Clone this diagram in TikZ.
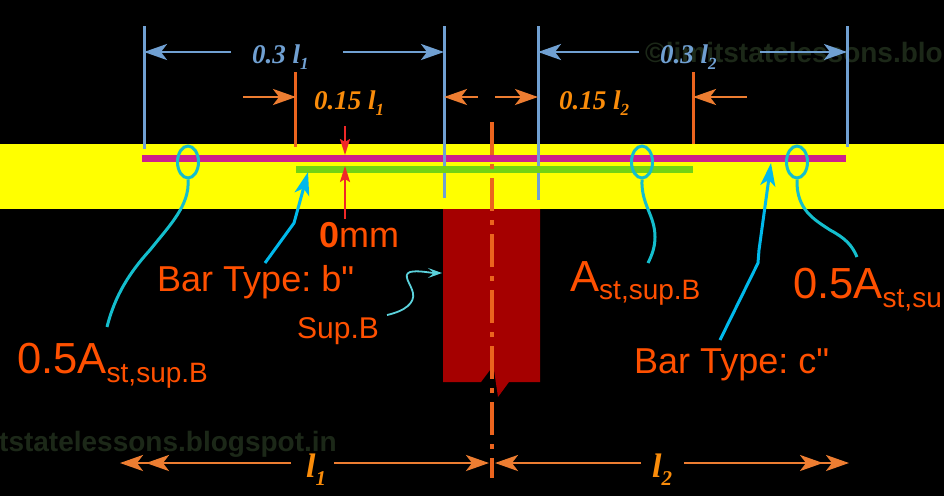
\documentclass[tikz,border=0pt]{standalone}
\usepackage{fontspec}
\setmainfont{Liberation Sans}
\newfontfamily\plainsans{Liberation Sans}
\newfontfamily\serifbi[BoldItalicFont={Liberation Serif Bold Italic}]{Liberation Serif}
\usetikzlibrary{arrows.meta,shapes.geometric}
\frenchspacing
\definecolor{slab}{RGB}{255,255,0}
\definecolor{dimblue}{RGB}{112,160,210}
\definecolor{dimorange}{RGB}{237,125,49}
\definecolor{tickorange}{RGB}{235,100,30}
\definecolor{txtorange}{RGB}{250,140,10}
\definecolor{lblorange}{RGB}{255,80,0}
\definecolor{ringcyan}{RGB}{20,190,205}
\definecolor{barcyan}{RGB}{0,185,235}
\definecolor{markred}{RGB}{240,40,40}
\definecolor{wmgreen}{RGB}{28,40,24}
\definecolor{topbar}{RGB}{205,32,140}
\definecolor{botbar}{RGB}{115,210,20}
\definecolor{pier}{RGB}{165,0,0}
\newcommand{\lensub}[3]{{\fontsize{#1}{#1}\selectfont\serifbi\bfseries\itshape #3}}
\newcommand{\lbl}[3]{\fontsize{#1}{#1}\selectfont #3\raisebox{-#2pt}{\fontsize{28}{28}\selectfont st,sup.B}}
\tikzset{
  dimb/.style={dimblue,line width=2.8pt,-{Stealth[length=23pt,width=16pt,inset=6pt]}},
  dimo/.style={dimorange,line width=2.8pt,-{Stealth[length=23pt,width=16pt,inset=6pt]}},
  dimoo/.style={dimorange,line width=2.8pt,-{Stealth[length=23pt,width=16pt,inset=6pt,sep=3pt]Stealth[length=23pt,width=16pt,inset=6pt]}},
  tickb/.style={dimblue,line width=3pt},
  ticko/.style={tickorange,line width=3pt},
  ring/.style={ellipse,draw=ringcyan,line width=3pt,minimum width=21pt,minimum height=32pt,inner sep=0pt},
  leader/.style={ringcyan,line width=3pt},
  barlead/.style={barcyan,line width=3pt,-{Stealth[length=23pt,width=15pt,inset=6pt]}},
  redlead/.style={markred,line width=2pt,-{Stealth[length=16pt,width=10pt,inset=3pt]}},
  txt/.style={anchor=base west,inner sep=0pt,text=lblorange},
  wm/.style={inner sep=0pt,text=wmgreen,font=\fontsize{28}{28}\selectfont\bfseries},
  dimtxt/.style={anchor=base west,inner sep=0pt}
}
\begin{document}
\begin{tikzpicture}[x=1pt,y=-1pt]
  \useasboundingbox (0,0) rectangle (944,496);
  \fill[black] (0,0) rectangle (944,496);
  % watermarks
  \node[wm,anchor=base west] (wmtop) at (645,62) {©limitstatelessons.blo};
  \node[wm,anchor=base east] (wmbot) at (337,451) {tstatelessons.blogspot.in};
  % slab, bars, support
  \fill[slab] (0,144) rectangle (944,209);
  \fill[pier] (443,209) -- (540,209) -- (540,382) -- (509,382) -- (498,397) -- (494,370)
    -- (490,370) -- (481,382) -- (443,382) -- cycle;
  \fill[topbar] (142,155) rectangle (846,162);
  % dimension ticks
  \draw[tickb] (144,26) -- (144,149);
  \draw[tickb] (444,26) -- (444,198);
  \draw[tickb] (538,26) -- (538,200);
  \draw[tickb] (847,26) -- (847,147);
  \draw[ticko] (295,72) -- (295,147);
  \draw[ticko] (693,72) -- (693,144);
  \fill[botbar] (296,166) rectangle (693,172.5);
  \draw[tickorange,line width=4pt,dash pattern=on 33pt off 9pt on 5pt off 9pt] (491.5,122) -- (491.5,478);
  % dimension arrows
  \draw[dimb] (231,52) -- (144,52);
  \draw[dimb] (343,52) -- (444,52);
  \draw[dimb] (639,52) -- (538,52);
  \draw[dimb] (760,52) -- (847,52);
  \draw[dimo] (243,97) -- (296,97);
  \draw[dimo] (478,97) -- (444,97);
  \draw[dimo] (495,97) -- (538,97);
  \draw[dimo] (747,97) -- (693,97);
  \draw[dimoo] (291,463) -- (120,463);
  \draw[dimo] (334,463) -- (489,463);
  \draw[dimo] (641,463) -- (495,463);
  \draw[dimoo] (684,463) -- (849,463);
  % dimension labels
  \node[dimtxt,text=dimblue] (dima) at (252,63) {\lensub{27}{0}{0.3 l}\raisebox{-6pt}{\lensub{17}{0}{1}}};
  \node[dimtxt,text=dimblue] (dimb) at (660,63) {\lensub{27}{0}{0.3 l}\raisebox{-6pt}{\lensub{17}{0}{2}}};
  \node[dimtxt,text=txtorange] (dimc) at (314,109) {\lensub{27}{0}{0.15 l}\raisebox{-6pt}{\lensub{17}{0}{1}}};
  \node[dimtxt,text=txtorange] (dimd) at (559,109) {\lensub{27}{0}{0.15 l}\raisebox{-6pt}{\lensub{17}{0}{2}}};
  \node[dimtxt,text=txtorange] (spana) at (306,477) {\lensub{34}{0}{l}\raisebox{-8pt}{\lensub{21}{0}{1}}};
  \node[dimtxt,text=txtorange] (spanb) at (652,477) {\lensub{34}{0}{l}\raisebox{-8pt}{\lensub{21}{0}{2}}};
  % rings and leaders
  \node[ring] (ringa) at (188,162) {};
  \node[ring] (ringb) at (642,162) {};
  \node[ring] (ringc) at (797,162) {};
  \coordinate (enda) at (107,327);
  \coordinate (endb) at (648,263);
  \coordinate (endc) at (857,257);
  \draw[leader] (ringa.south) .. controls (190,205) and (170,225) .. (150,250)
    .. controls (130,272) and (115,295) .. (enda);
  \draw[leader] (ringb.south) .. controls (641,205) and (655,215) .. (655,237)
    .. controls (655,247) and (652,255) .. (endb);
  \draw[leader] (ringc.south) .. controls (796,210) and (815,220) .. (830,230)
    .. controls (845,238) and (852,245) .. (endc);
  % bar type pointers
  \coordinate (tipb) at (308,172);
  \coordinate (tipc) at (771,163);
  \coordinate (startb) at (265,263);
  \coordinate (startc) at (720,340);
  \draw[barlead] (startb) -- (294,223) -- (tipb);
  \draw[barlead] (startc) -- (758,263) -- (759,250) -- (tipc);
  % zero cover
  \coordinate (zeroa) at (345,126);
  \coordinate (zerob) at (345,155);
  \coordinate (zeroc) at (345,219);
  \coordinate (zerod) at (345,166);
  \draw[redlead] (zeroa) -- (zerob);
  \draw[redlead] (zeroc) -- (zerod);
  % text
  \node[txt] (zero) at (319,247) {\fontsize{36}{36}\selectfont\textbf{0}mm};
  \node[txt] (typeb) at (157,291) {\fontsize{36}{36}\selectfont Bar Type: b{\plainsans"}};
  \node[txt] (typec) at (634,373) {\fontsize{36}{36}\selectfont Bar Type: c{\plainsans"}};
  \node[txt] (supb) at (297,338) {\fontsize{30}{30}\selectfont Sup.B};
  \node[txt] (asta) at (17,373) {\lbl{43.5}{9}{0.5A}};
  \node[txt] (astb) at (570,291) {\lbl{43.5}{8}{A}};
  \node[txt] (astc) at (793,298) {\fontsize{43.5}{43.5}\selectfont 0.5A\raisebox{-9pt}{\fontsize{28}{28}\selectfont st,su}};
  % support pointer
  \coordinate (supend) at (442,273);
  \draw[ringcyan!70!white,line width=1.8pt,-{Stealth[length=14pt,width=10pt,inset=6pt]}]
    (387,315) .. controls (405,311) and (415,303) .. (413,293)
    .. controls (411,284) and (402,275) .. (410,272) .. controls (418,270) and (430,273) .. (supend);
\end{tikzpicture}
\end{document}
